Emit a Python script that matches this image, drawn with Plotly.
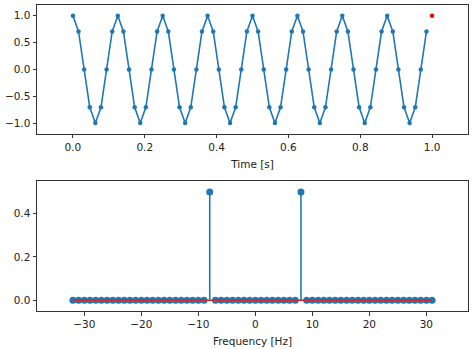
import plotly.graph_objects as go
from plotly.subplots import make_subplots

# ---- data ----
sample_rate = 64
times = [i / sample_rate for i in range(64)]
signal = [1.0, 0.707, 0.0, -0.707, -1.0, -0.707, 0.0, 0.707,
          1.0, 0.707, 0.0, -0.707, -1.0, -0.707, 0.0, 0.707,
          1.0, 0.707, 0.0, -0.707, -1.0, -0.707, 0.0, 0.707,
          1.0, 0.707, 0.0, -0.707, -1.0, -0.707, 0.0, 0.707,
          1.0, 0.707, 0.0, -0.707, -1.0, -0.707, 0.0, 0.707,
          1.0, 0.707, 0.0, -0.707, -1.0, -0.707, 0.0, 0.707,
          1.0, 0.707, 0.0, -0.707, -1.0, -0.707, 0.0, 0.707,
          1.0, 0.707, 0.0, -0.707, -1.0, -0.707, 0.0, 0.707]
end_time = [1.0]
end_value = [1.0]

frequencies = list(range(-32, 32))
magnitudes = [0.0] * 24 + [0.5] + [0.0] * 15 + [0.5] + [0.0] * 23

BLUE = "#1f77b4"
RED_PT = "#ff0000"
RED_BASE = "#d62728"
FONT = "DejaVu Sans"
FS = 10.5

fig = make_subplots(rows=2, cols=1, vertical_spacing=0.155)

# top: time signal
fig.add_trace(go.Scatter(x=times, y=signal, mode="lines+markers",
                         line=dict(color=BLUE, width=1.6),
                         marker=dict(color=BLUE, size=4.5)),
              row=1, col=1)
fig.add_trace(go.Scatter(x=end_time, y=end_value, mode="markers",
                         marker=dict(color=RED_PT, size=4.5)),
              row=1, col=1)

# bottom: stem plot
stem_x, stem_y = [], []
for f, m in zip(frequencies, magnitudes):
    stem_x += [f, f, None]
    stem_y += [0, m, None]
fig.add_trace(go.Scatter(x=stem_x, y=stem_y, mode="lines",
                         line=dict(color=BLUE, width=1.6)),
              row=2, col=1)
fig.add_trace(go.Scatter(x=frequencies, y=magnitudes, mode="markers",
                         marker=dict(color=BLUE, size=7)),
              row=2, col=1)
fig.add_trace(go.Scatter(x=[frequencies[0], frequencies[-1]], y=[0, 0],
                         mode="lines", line=dict(color=RED_BASE, width=1.5)),
              row=2, col=1)

axis_common = dict(showgrid=False, zeroline=False, showline=True,
                   linecolor="#333333", linewidth=1, mirror=True,
                   ticks="outside", ticklen=3.5, tickwidth=1,
                   tickcolor="#333333",
                   tickfont=dict(family=FONT, size=FS, color="#222222"))

fig.update_xaxes(**axis_common)
fig.update_yaxes(**axis_common)

fig.update_xaxes(range=[-0.1, 1.1], dtick=0.2, tick0=0, tickformat=".1f",
                 title=dict(text="Time [s]", standoff=8,
                            font=dict(family=FONT, size=FS, color="#222222")),
                 row=1, col=1)
fig.update_yaxes(range=[-1.2, 1.2], dtick=0.5, tick0=0, tickformat=".1f",
                 row=1, col=1)
fig.update_xaxes(range=[-38.3, 37.3], dtick=10, tick0=0,
                 title=dict(text="Frequency [Hz]", standoff=8,
                            font=dict(family=FONT, size=FS, color="#222222")),
                 row=2, col=1)
fig.update_yaxes(range=[-0.05, 0.55], dtick=0.2, tick0=0, tickformat=".1f",
                 row=2, col=1)

fig.update_layout(width=474, height=349,
                  margin=dict(l=37, r=6, t=4, b=37),
                  showlegend=False,
                  paper_bgcolor="white", plot_bgcolor="white",
                  font=dict(family=FONT, size=FS, color="#222222"))
fig.update_layout(yaxis=dict(domain=[0.579, 1.0]),
                  yaxis2=dict(domain=[0.0, 0.424]))

fig.write_html("out.html")
